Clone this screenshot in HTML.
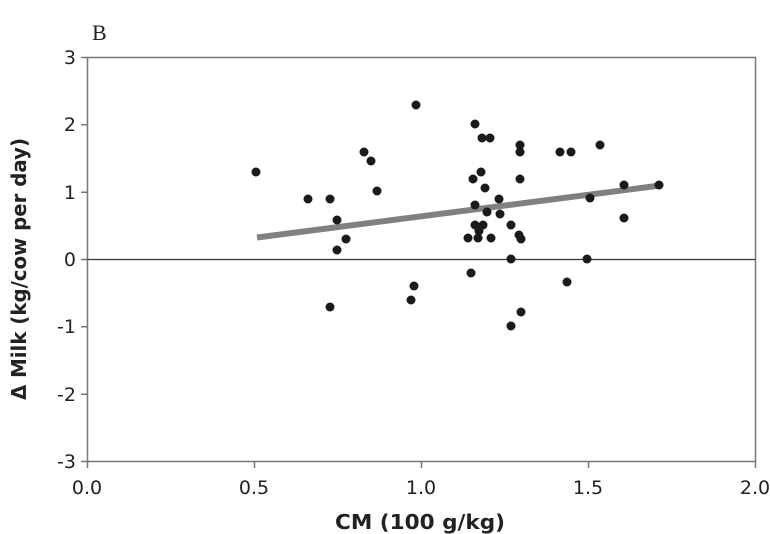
<!DOCTYPE html>
<html><head><style>body{margin:0;background:#fff}svg{display:block}</style></head><body>
<svg width="770" height="534" xmlns="http://www.w3.org/2000/svg" font-family="'DejaVu Sans', 'Liberation Sans', sans-serif">
<rect width="770" height="534" fill="#fff"/>
<text x="92" y="40" font-family="'Liberation Serif', serif" font-size="22" fill="#222">B</text>
<g stroke="#777" stroke-width="1.5" fill="none">
<rect x="87.5" y="57.5" width="668" height="404"/>
<path d="M81 57.5H87.5M81 124.8H87.5M81 192.2H87.5M81 259.5H87.5M81 326.8H87.5M81 394.2H87.5M81 461.5H87.5"/>
<path d="M87.5 461.5V468M254.5 461.5V468M421.5 461.5V468M588.5 461.5V468M755.5 461.5V468"/>
</g>
<line x1="87.5" y1="259.5" x2="755.5" y2="259.5" stroke="#333" stroke-width="1.3"/>
<g font-size="19" fill="#222" text-anchor="end">
<text x="76" y="64">3</text><text x="76" y="131">2</text><text x="76" y="199">1</text><text x="76" y="266">0</text><text x="76" y="333">-1</text><text x="76" y="401">-2</text><text x="76" y="468">-3</text>
</g>
<g font-size="19" fill="#222" text-anchor="middle">
<text x="87" y="494">0.0</text><text x="254" y="494">0.5</text><text x="421" y="494">1.0</text><text x="588" y="494">1.5</text><text x="755" y="494">2.0</text>
</g>
<text x="335" y="529" font-size="20" font-weight="bold" fill="#222" textLength="170" lengthAdjust="spacingAndGlyphs">CM (100 g/kg)</text>
<text transform="translate(26,400) rotate(-90)" font-size="20" font-weight="bold" fill="#222" textLength="262" lengthAdjust="spacingAndGlyphs">Δ Milk (kg/cow per day)</text>
<line x1="257" y1="237.5" x2="660" y2="185.5" stroke="#808080" stroke-width="6"/>
<g fill="#1a1a1a">
<circle cx="256" cy="172" r="4.5"/><circle cx="308" cy="199" r="4.5"/><circle cx="330" cy="199" r="4.5"/><circle cx="337" cy="220" r="4.5"/><circle cx="346" cy="239" r="4.5"/><circle cx="337" cy="250" r="4.5"/><circle cx="364" cy="152" r="4.5"/><circle cx="371" cy="161" r="4.5"/><circle cx="377" cy="191" r="4.5"/><circle cx="416" cy="105" r="4.5"/><circle cx="330" cy="307" r="4.5"/><circle cx="414" cy="286" r="4.5"/><circle cx="411" cy="300" r="4.5"/>
<circle cx="475" cy="124" r="4.5"/><circle cx="482" cy="138" r="4.5"/><circle cx="490" cy="138" r="4.5"/><circle cx="520" cy="145" r="4.5"/><circle cx="520" cy="152" r="4.5"/><circle cx="560" cy="152" r="4.5"/><circle cx="571" cy="152" r="4.5"/><circle cx="600" cy="145" r="4.5"/>
<circle cx="473" cy="179" r="4.5"/><circle cx="481" cy="172" r="4.5"/><circle cx="485" cy="188" r="4.5"/><circle cx="520" cy="179" r="4.5"/><circle cx="624" cy="185" r="4.5"/><circle cx="659" cy="185" r="4.5"/><circle cx="590" cy="198" r="4.5"/>
<circle cx="475" cy="205" r="4.5"/><circle cx="487" cy="212" r="4.5"/><circle cx="499" cy="199" r="4.5"/><circle cx="500" cy="214" r="4.5"/><circle cx="511" cy="225" r="4.5"/><circle cx="475" cy="225" r="4.5"/><circle cx="483" cy="225" r="4.5"/><circle cx="468" cy="238" r="4.5"/><circle cx="478" cy="238" r="4.5"/><circle cx="491" cy="238" r="4.5"/><circle cx="479" cy="231" r="4.5"/><circle cx="519" cy="235" r="4.5"/><circle cx="521" cy="239" r="4.5"/>
<circle cx="511" cy="259" r="4.5"/><circle cx="587" cy="259" r="4.5"/><circle cx="471" cy="273" r="4.5"/><circle cx="567" cy="282" r="4.5"/><circle cx="521" cy="312" r="4.5"/><circle cx="511" cy="326" r="4.5"/><circle cx="624" cy="218" r="4.5"/>
</g>
</svg>
</body></html>
